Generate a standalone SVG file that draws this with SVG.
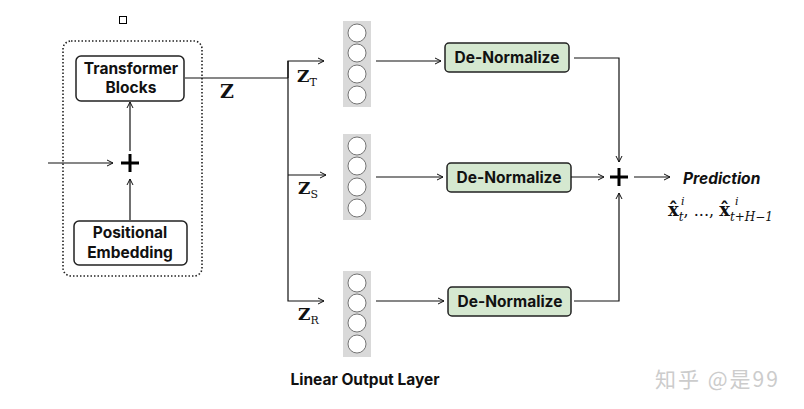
<svg xmlns="http://www.w3.org/2000/svg" width="804" height="409" viewBox="0 0 804 409">
<style>
.ln{stroke:#111;stroke-width:1.2;fill:none}
.box{fill:#fff;stroke:#222;stroke-width:1.5}
.dn{fill:#d5e8d0;stroke:#222;stroke-width:1.5}
.t{font-family:Inter,"Liberation Sans",sans-serif;font-weight:700;font-size:15.5px;fill:#111;text-anchor:middle}
.m{font-family:"DejaVu Serif","Liberation Serif",serif;fill:#111}
.col{fill:#d9d9d9}
.c{fill:#fff;stroke:#555;stroke-width:0.8}
.plus{stroke:#000;stroke-width:3}
</style>
<defs>
<marker id="a" markerWidth="8" markerHeight="8" refX="7" refY="4" orient="auto" markerUnits="userSpaceOnUse">
<path d="M1,1 L7,4 L1,7" fill="none" stroke="#111" stroke-width="1"/>
</marker>
</defs>
<rect x="119.5" y="16.5" width="7" height="7" fill="#fff" stroke="#000"/>
<g id="encoder">
<rect x="63" y="41" width="139" height="235" rx="8" fill="none" stroke="#222" stroke-width="1.6" stroke-dasharray="1.5,2"/>
</g>
<g id="transformer">
<rect class="box" x="76" y="56" width="108" height="45" rx="5"/>
<text class="t" x="131" y="74">Transformer</text>
<text class="t" x="131" y="93">Blocks</text>
</g>
<g id="positional">
<rect class="box" x="74" y="221" width="113" height="44" rx="5"/>
<text class="t" x="130" y="238">Positional</text>
<text class="t" x="130" y="258">Embedding</text>
</g>
<g id="plus1"><path class="plus" d="M121,163H139M130,154V172"/></g>
<g id="plus2"><path class="plus" d="M610,177H628M619,168V186"/></g>
<g id="cols">
<rect class="col" x="343" y="21" width="28" height="86"/>
<circle class="c" cx="357" cy="33" r="9"/><circle class="c" cx="357" cy="53" r="9"/><circle class="c" cx="357" cy="74" r="9"/><circle class="c" cx="357" cy="95" r="9"/>
<rect class="col" x="343" y="134" width="28" height="86"/>
<circle class="c" cx="357" cy="146" r="9"/><circle class="c" cx="357" cy="166" r="9"/><circle class="c" cx="357" cy="187" r="9"/><circle class="c" cx="357" cy="208" r="9"/>
<rect class="col" x="343" y="271" width="28" height="86"/>
<circle class="c" cx="357" cy="283" r="9"/><circle class="c" cx="357" cy="303" r="9"/><circle class="c" cx="357" cy="323" r="9"/><circle class="c" cx="357" cy="344" r="9"/>
</g>
<g id="dn1"><rect class="dn" x="445" y="43" width="124" height="29" rx="4"/><text class="t" x="507" y="63">De-Normalize</text></g>
<g id="dn2"><rect class="dn" x="447" y="163" width="124" height="29" rx="4"/><text class="t" x="509" y="183">De-Normalize</text></g>
<g id="dn3"><rect class="dn" x="448" y="287" width="123" height="29" rx="4"/><text class="t" x="510" y="307">De-Normalize</text></g>
<g id="connectors">
<path class="ln" d="M48,163H113" marker-end="url(#a)"/>
<path class="ln" d="M130,220V179" marker-end="url(#a)"/>
<path class="ln" d="M130,151V102" marker-end="url(#a)"/>
<path class="ln" d="M185,78H288"/>
<path class="ln" d="M288,78V61H324" marker-end="url(#a)"/>
<path class="ln" d="M288,61V301H324" marker-end="url(#a)"/>
<path class="ln" d="M288,175H326" marker-end="url(#a)"/>
<path class="ln" d="M376,61H441" marker-end="url(#a)"/>
<path class="ln" d="M376,177H443" marker-end="url(#a)"/>
<path class="ln" d="M376,301H444" marker-end="url(#a)"/>
<path class="ln" d="M574,58H619V162" marker-end="url(#a)"/>
<path class="ln" d="M571,177H604" marker-end="url(#a)"/>
<path class="ln" d="M574,301H619V193" marker-end="url(#a)"/>
<path class="ln" d="M634,177H670" marker-end="url(#a)"/>
</g>
<text class="m" x="220" y="98" font-size="19" font-weight="700">Z</text>
<text class="m" x="297" y="82" font-size="17" font-weight="700">Z<tspan font-size="11" font-weight="400" dy="4">T</tspan></text>
<text class="m" x="298" y="194" font-size="17" font-weight="700">Z<tspan font-size="11" font-weight="400" dy="4">S</tspan></text>
<text class="m" x="298" y="320" font-size="17" font-weight="700">Z<tspan font-size="11" font-weight="400" dy="4">R</tspan></text>
<text x="683" y="184" font-family="Inter,'Liberation Sans',sans-serif" font-weight="700" font-style="italic" font-size="15.5" fill="#111">Prediction</text>
<text class="m" x="668" y="216" font-size="18" font-weight="700">x̂<tspan font-size="12" font-weight="400" font-style="italic" dy="5">t</tspan><tspan font-weight="400" font-size="16" dy="-5">, ..., </tspan><tspan>x̂</tspan><tspan font-size="12" font-weight="400" font-style="italic" dy="5">t+H−1</tspan></text>
<text class="m" x="681" y="205" font-size="11" font-style="italic">i</text>
<text class="m" x="735" y="205" font-size="11" font-style="italic">i</text>
<text class="t" x="365" y="385">Linear Output Layer</text>
<text x="655" y="387" font-family="'Noto Sans CJK SC',sans-serif" font-size="21" fill="#ccc" letter-spacing="2">知乎 @是99</text>
</svg>
